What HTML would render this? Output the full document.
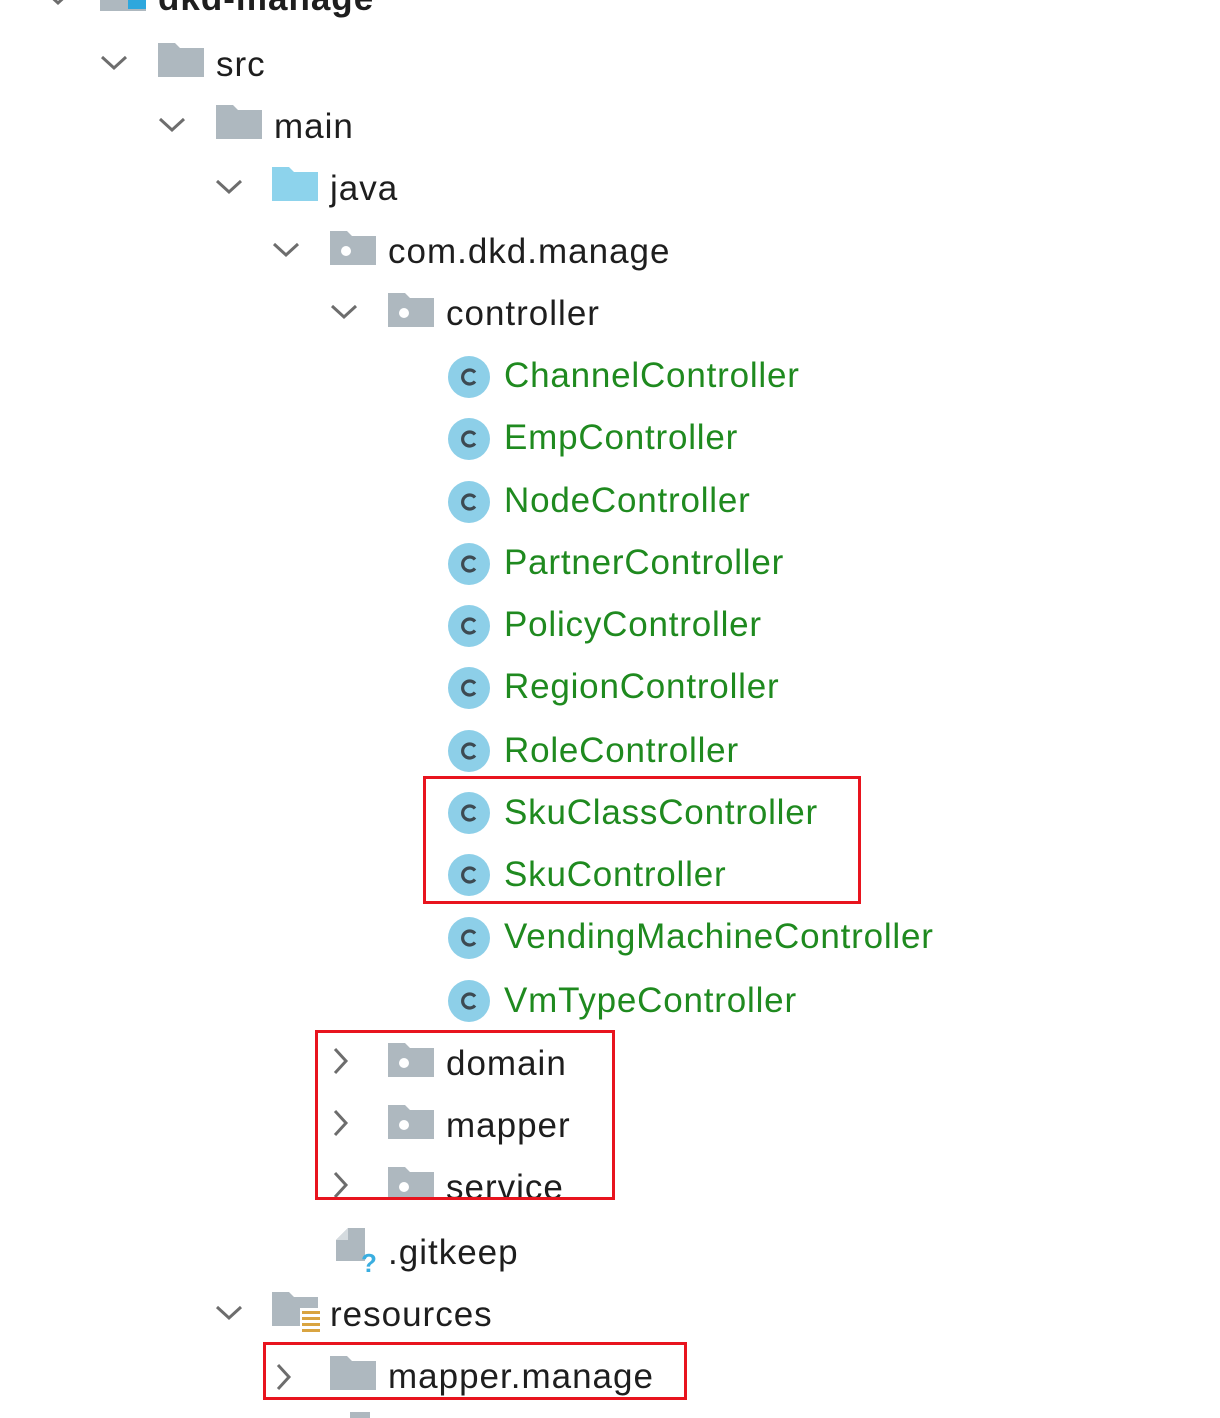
<!DOCTYPE html>
<html><head><meta charset="utf-8"><style>
body{margin:0;width:1220px;height:1417px;background:#fff;position:relative;overflow:hidden;font-family:"Liberation Sans",sans-serif;}
.t{position:absolute;font-size:35px;line-height:42px;color:#1e1e1e;white-space:nowrap;letter-spacing:1px}
.g{color:#1f8a1f;letter-spacing:0.8px}
svg{position:absolute}
.box{position:absolute;border:3px solid #e8141e;box-sizing:border-box}
</style></head><body>
<svg width="0" height="0" style="position:absolute"><defs>
<symbol id="f" viewBox="0 0 46 34"><path d="M0 0h17l5 5h24v29H0z" fill="#aeb8bf"/></symbol>
<symbol id="p" viewBox="0 0 46 34"><path d="M0 0h17l5 5h24v29H0z" fill="#aeb8bf"/><circle cx="16" cy="20" r="5" fill="#fff"/></symbol>
<symbol id="d" viewBox="0 0 28 16"><polyline points="2,2 14,13 26,2" fill="none" stroke="#6d6d6d" stroke-width="3"/></symbol>
<symbol id="r" viewBox="0 0 16 28"><polyline points="2,2 13,14 2,26" fill="none" stroke="#6d6d6d" stroke-width="3"/></symbol>
<symbol id="c" viewBox="0 0 44 44"><circle cx="22" cy="22" r="21" fill="#8dcfe8"/><path d="M28 17.5a7 7 0 1 0 0 9" fill="none" stroke="#3d4a52" stroke-width="3.2"/></symbol>
</defs></svg>

<svg style="left:44px;top:-10px" width="28" height="16"><use href="#d"/></svg>
<svg style="left:100px;top:-16px" width="48" height="40"><path d="M0 0h17l5 5h24v22H0z" fill="#aeb8bf"/><rect x="28" y="10" width="18" height="15" fill="#2ea7dd"/></svg>
<div class="t" style="left:158px;top:-22px;font-weight:bold">dkd-manage</div>

<svg style="left:100px;top:55px" width="28" height="16"><use href="#d"/></svg>
<svg style="left:158px;top:43px" width="46" height="34"><use href="#f"/></svg>
<div class="t" style="left:216px;top:44px">src</div>

<svg style="left:158px;top:117px" width="28" height="16"><use href="#d"/></svg>
<svg style="left:216px;top:105px" width="46" height="34"><use href="#f"/></svg>
<div class="t" style="left:274px;top:106px">main</div>

<svg style="left:215px;top:179px" width="28" height="16"><use href="#d"/></svg>
<svg style="left:272px;top:167px" width="46" height="34"><path d="M0 0h17l5 5h24v29H0z" fill="#8dd3ec"/></svg>
<div class="t" style="left:330px;top:168px">java</div>

<svg style="left:272px;top:242px" width="28" height="16"><use href="#d"/></svg>
<svg style="left:330px;top:231px" width="46" height="34"><use href="#p"/></svg>
<div class="t" style="left:388px;top:231px">com.dkd.manage</div>

<svg style="left:330px;top:304px" width="28" height="16"><use href="#d"/></svg>
<svg style="left:388px;top:293px" width="46" height="34"><use href="#p"/></svg>
<div class="t" style="left:446px;top:293px">controller</div>

<svg style="left:447px;top:355px" width="44" height="44"><use href="#c"/></svg><div class="t g" style="left:504px;top:355px">ChannelController</div>
<svg style="left:447px;top:417px" width="44" height="44"><use href="#c"/></svg><div class="t g" style="left:504px;top:417px">EmpController</div>
<svg style="left:447px;top:480px" width="44" height="44"><use href="#c"/></svg><div class="t g" style="left:504px;top:480px">NodeController</div>
<svg style="left:447px;top:542px" width="44" height="44"><use href="#c"/></svg><div class="t g" style="left:504px;top:542px">PartnerController</div>
<svg style="left:447px;top:604px" width="44" height="44"><use href="#c"/></svg><div class="t g" style="left:504px;top:604px">PolicyController</div>
<svg style="left:447px;top:666px" width="44" height="44"><use href="#c"/></svg><div class="t g" style="left:504px;top:666px">RegionController</div>
<svg style="left:447px;top:729px" width="44" height="44"><use href="#c"/></svg><div class="t g" style="left:504px;top:730px">RoleController</div>
<svg style="left:447px;top:791px" width="44" height="44"><use href="#c"/></svg><div class="t g" style="left:504px;top:792px">SkuClassController</div>
<svg style="left:447px;top:853px" width="44" height="44"><use href="#c"/></svg><div class="t g" style="left:504px;top:854px">SkuController</div>
<svg style="left:447px;top:916px" width="44" height="44"><use href="#c"/></svg><div class="t g" style="left:504px;top:916px">VendingMachineController</div>
<svg style="left:447px;top:979px" width="44" height="44"><use href="#c"/></svg><div class="t g" style="left:504px;top:980px">VmTypeController</div>

<div style="position:absolute;left:0;top:1030px;width:700px;height:168px;overflow:hidden">
<svg style="left:333px;top:17px" width="16" height="28"><use href="#r"/></svg>
<svg style="left:388px;top:13px" width="46" height="34"><use href="#p"/></svg>
<div class="t" style="left:446px;top:13px">domain</div>
<svg style="left:333px;top:79px" width="16" height="28"><use href="#r"/></svg>
<svg style="left:388px;top:75px" width="46" height="34"><use href="#p"/></svg>
<div class="t" style="left:446px;top:75px">mapper</div>
<svg style="left:333px;top:141px" width="16" height="28"><use href="#r"/></svg>
<svg style="left:388px;top:137px" width="46" height="34"><use href="#p"/></svg>
<div class="t" style="left:446px;top:137px">service</div>
</div>

<svg style="left:336px;top:1228px" width="46" height="46"><path d="M12 0h17v33H0V12z" fill="#aeb8bf"/><path d="M0 12L12 0v12z" fill="#d5dbdf"/><text x="25" y="44" font-family="Liberation Sans" font-size="26" font-weight="bold" fill="#3aaee0">?</text></svg>
<div class="t" style="left:388px;top:1232px">.gitkeep</div>

<svg style="left:215px;top:1305px" width="28" height="16"><use href="#d"/></svg>
<svg style="left:272px;top:1292px" width="50" height="46"><path d="M0 0h17l5 5h24v29H0z" fill="#aeb8bf"/><rect x="28" y="16" width="20" height="26" fill="#fff"/><g fill="#d9a441"><rect x="30" y="19" width="18" height="3"/><rect x="30" y="25" width="18" height="3"/><rect x="30" y="31" width="18" height="3"/><rect x="30" y="37" width="18" height="3"/></g></svg>
<div class="t" style="left:330px;top:1294px">resources</div>

<svg style="left:276px;top:1363px" width="16" height="28"><use href="#r"/></svg>
<svg style="left:330px;top:1356px" width="46" height="34"><use href="#f"/></svg>
<div class="t" style="left:388px;top:1356px">mapper.manage</div>

<svg style="left:340px;top:1410px" width="40" height="8"><rect x="10" y="2" width="20" height="6" fill="#aeb8bf"/></svg>

<div class="box" style="left:423px;top:776px;width:438px;height:128px"></div>
<div class="box" style="left:315px;top:1030px;width:300px;height:170px"></div>
<div class="box" style="left:263px;top:1342px;width:424px;height:58px"></div>
</body></html>
